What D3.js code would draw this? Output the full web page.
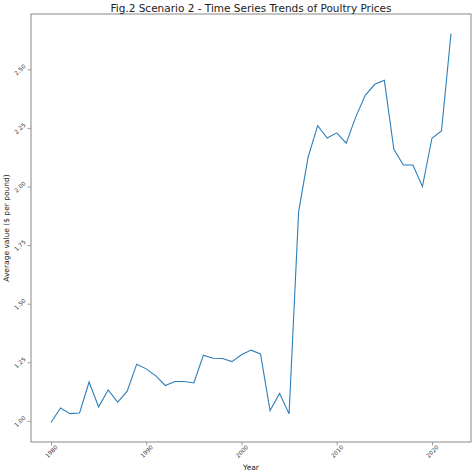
<!DOCTYPE html>
<html>
<head>
<meta charset="utf-8">
<script src="https://cdn.jsdelivr.net/npm/d3@7"></script>
<style>
  body { margin: 0; background: #fff; }
  svg text { font-family: "DejaVu Sans", sans-serif; }
</style>
</head>
<body>
<div id="chart"></div>
<script>
// data
const years = d3.range(1980, 2023);
const prices = [0.993, 1.055, 1.031, 1.034, 1.166, 1.060, 1.132, 1.080, 1.127, 1.242,
  1.222, 1.192, 1.151, 1.168, 1.168, 1.162, 1.280, 1.267, 1.266, 1.253,
  1.282, 1.302, 1.286, 1.044, 1.117, 1.030, 1.893, 2.126, 2.260, 2.207,
  2.229, 2.185, 2.297, 2.389, 2.436, 2.453, 2.159, 2.092, 2.092, 2.000,
  2.206, 2.237, 2.653];
const xTicks = [1980, 1990, 2000, 2010, 2020];
const yTicks = [1.00, 1.25, 1.50, 1.75, 2.00, 2.25, 2.50];

const margin = {top: 14, right: 3, bottom: 32, left: 31},
    width = 474 - margin.left - margin.right,
    height = 474 - margin.top - margin.bottom;

const svg = d3.select("#chart")
  .append("svg")
    .attr("width", 474)
    .attr("height", 474);

const g = svg.append("g")
    .attr("transform", `translate(${margin.left},${margin.top})`);

// matplotlib-style 5% padding
const xPad = (d3.max(years) - d3.min(years)) * 0.05;
const yPad = (d3.max(prices) - d3.min(prices)) * 0.05;
const x = d3.scaleLinear()
  .domain([d3.min(years) - xPad, d3.max(years) + xPad])
  .range([0, width]);
const y = d3.scaleLinear()
  .domain([d3.min(prices) - yPad, d3.max(prices) + yPad])
  .range([height, 0]);

// x axis
const xAxis = g.append("g")
  .attr("transform", `translate(0,${height})`)
  .call(d3.axisBottom(x).tickValues(xTicks).tickFormat(d3.format("d")).tickSize(3.5).tickPadding(2));
xAxis.selectAll("text")
  .attr("font-size", 5.8)
  .attr("fill", "#333")
  .attr("text-anchor", "middle")
  .attr("y", 0)
  .attr("dy", "0.35em")
  .attr("transform", "translate(0,9.5) rotate(-45)");

// y axis
const yAxis = g.append("g")
  .call(d3.axisLeft(y).tickValues(yTicks).tickFormat(d3.format(".2f")).tickSize(3.5).tickPadding(2));
yAxis.selectAll("text")
  .attr("font-size", 5.8)
  .attr("fill", "#333")
  .attr("text-anchor", "middle")
  .attr("x", 0)
  .attr("dy", "0.35em")
  .attr("transform", "translate(-11,0) rotate(-45)");

svg.selectAll(".domain").remove();
svg.selectAll(".tick line").attr("stroke", "#777").attr("stroke-width", 0.7);

// frame
g.append("rect")
  .attr("width", width)
  .attr("height", height)
  .attr("fill", "none")
  .attr("stroke", "#888")
  .attr("stroke-width", 1);

// the line
g.append("path")
  .datum(years.map((yr, i) => [yr, prices[i]]))
  .attr("fill", "none")
  .attr("stroke", "#2d7fb8")
  .attr("stroke-width", 1.1)
  .attr("d", d3.line().x(d => x(d[0])).y(d => y(d[1])));

// titles
svg.append("text")
  .attr("x", margin.left + width / 2)
  .attr("y", 12)
  .attr("text-anchor", "middle")
  .attr("font-size", 10.5)
  .attr("fill", "#222")
  .text("Fig.2 Scenario 2 - Time Series Trends of Poultry Prices");

svg.append("text")
  .attr("x", margin.left + width / 2)
  .attr("y", 470)
  .attr("text-anchor", "middle")
  .attr("font-size", 7.5)
  .attr("fill", "#222")
  .text("Year");

svg.append("text")
  .attr("transform", `translate(9,${margin.top + height / 2}) rotate(-90)`)
  .attr("text-anchor", "middle")
  .attr("font-size", 7.5)
  .attr("fill", "#222")
  .text("Average value ($ per pound)");
</script>
</body>
</html>
